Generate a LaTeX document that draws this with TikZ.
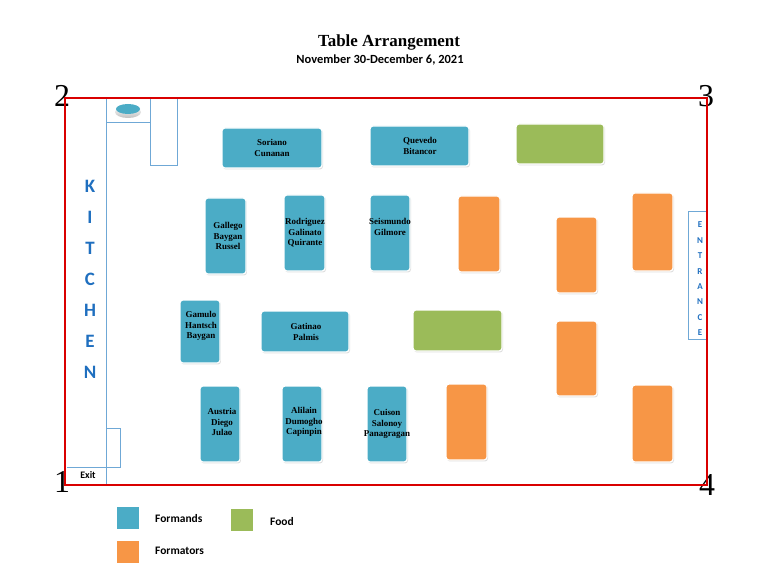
\documentclass[tikz,border=0pt]{standalone}
\usepackage{fontspec}
\setsansfont{Carlito}
\setmainfont{Liberation Serif}
\usetikzlibrary{positioning,calc,shadows}
\definecolor{formand}{HTML}{4BACC6}
\definecolor{food}{HTML}{9BBB59}
\definecolor{formator}{HTML}{F79646}
\definecolor{wall}{HTML}{6FA8D6}
\definecolor{kblue}{HTML}{1F6FBF}

\begin{document}
\begin{tikzpicture}[x=1bp,y=-1bp,
        table/.style={draw=white,line width=1.2pt,rounded corners=3pt,drop shadow={opacity=0.25,shadow xshift=1pt,shadow yshift=-1.5pt}},
        blue/.style={table,fill=formand},
        green/.style={table,fill=food},
        orange/.style={table,fill=formator},
        names/.style={font=\bfseries\fontsize{9}{10.5}\selectfont,align=center,inner sep=0pt},
        corner/.style={font=\fontsize{32}{32}\selectfont,inner sep=0pt},
        wallline/.style={draw=wall,line width=0.6pt},
        key/.style={font=\sffamily\bfseries\fontsize{11.5}{13}\selectfont,anchor=west,inner sep=0pt}]
   \useasboundingbox (0,0) rectangle (768,576);
   % title
   \node[font=\bfseries\fontsize{17}{19}\selectfont] (title) at (389,42) {Table Arrangement};
   \node[font=\sffamily\bfseries\fontsize{12.5}{14}\selectfont] (dates) at (380,60) {November 30-December 6, 2021};
   % corners
   \node[corner] (c2) at (62,96) {2};
   \node[corner] (c3) at (706,96) {3};
   \node[corner] (c1) at (62,482) {1};
   \node[corner] (c4) at (707,485) {4};
   % kitchen walls
   \draw[wallline] (106,98) -- (106,485);
   \draw[wallline] (106,122) -- (150,122);
   \draw[wallline] (150,98) -- (150,165) -- (177,165) -- (177,98);
   \draw[wallline] (67,467) -- (120,467) -- (120,428) -- (106,428);
   \shade[top color=white,bottom color=gray!50] (128,112) ellipse (13 and 6);
   \fill[formand] (128,109) ellipse (12 and 5);
   \node[font=\sffamily\bfseries\fontsize{10}{11}\selectfont] (exit) at (88,475) {Exit};
   \foreach \l [count=\i from 0] in {K,I,T,C,H,E,N}
      \node[font=\sffamily\bfseries\fontsize{19}{20}\selectfont,text=kblue] (k\i) at (90,186+31*\i) {\l};
   % entrance
   \draw[wallline] (688,211) rectangle (707,339);
   \foreach \l [count=\i from 0] in {E,N,T,R,A,N,C,E}
      \node[font=\sffamily\bfseries\fontsize{9}{10}\selectfont,text=kblue] (e\i) at (700,225+15.4*\i) {\l};
   % red outline
   \draw[red!85!black,line width=1.8pt] (65,98) rectangle (707,485);
   % tables
   \filldraw[blue] (222,128) rectangle (322,168);
   \node[names] (soriano) at (272,148) {Soriano\\Cunanan};
   \filldraw[blue] (370,126) rectangle (469,166);
   \node[names] (quevedo) at (420,146) {Quevedo\\Bitancor};
   \filldraw[green] (516,124) rectangle (604,164);
   \filldraw[blue] (205,198) rectangle (246,274);
   \node[names] (gallego) at (228,236) {Gallego\\Baygan\\Russel};
   \filldraw[blue] (284,195) rectangle (325,271);
   \node[names] (rodriguez) at (305,233) {Rodriguez\\Galinato\\Quirante};
   \filldraw[blue] (370,195) rectangle (410,271);
   \node[names] (seismundo) at (390,227) {Seismundo\\Gilmore};
   \filldraw[orange] (458,196) rectangle (500,272);
   \filldraw[orange] (556,217) rectangle (597,293);
   \filldraw[orange] (632,193) rectangle (673,271);
   \filldraw[blue] (180,300) rectangle (220,363);
   \node[names] (gamulo) at (201,326) {Gamulo\\Hantsch\\Baygan};
   \filldraw[blue] (261,311) rectangle (349,352);
   \node[names] (gatinao) at (306,332) {Gatinao\\Palmis};
   \filldraw[green] (413,310) rectangle (502,351);
   \filldraw[orange] (556,321) rectangle (597,396);
   \filldraw[orange] (446,384) rectangle (487,460);
   \filldraw[orange] (632,385) rectangle (673,462);
   \filldraw[blue] (200,386) rectangle (240,462);
   \node[names] (austria) at (222,422) {Austria\\Diego\\Julao};
   \filldraw[blue] (282,386) rectangle (322,462);
   \node[names] (alilain) at (304,422) {Alilain\\Dumogho\\Capinpin};
   \filldraw[blue] (367,386) rectangle (407,462);
   \node[names] (cuison) at (387,424) {Cuison\\Salonoy\\Panagragan};
   % legend
   \fill[formand] (117,507) rectangle (139,529);
   \node[key] (lformand) at (155,519) {Formands};
   \fill[food] (231,509) rectangle (253,531);
   \node[key] (lfood) at (270,522) {Food};
   \fill[formator] (117,541) rectangle (139,563);
   \node[key] (lformator) at (155,551) {Formators};
\end{tikzpicture}
\end{document}
